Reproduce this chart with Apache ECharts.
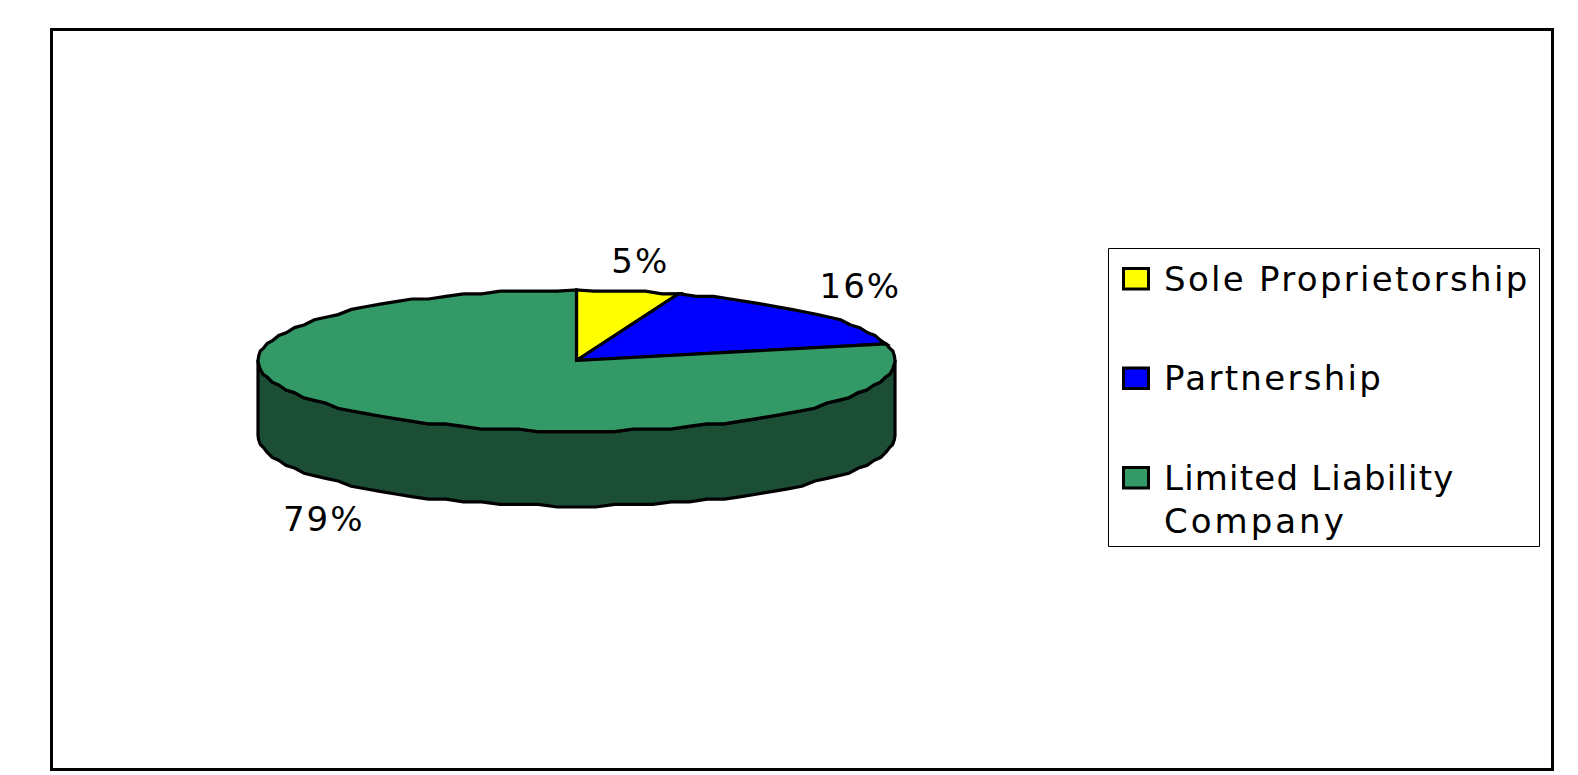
<!DOCTYPE html>
<html><head><meta charset="utf-8">
<style>
html,body{margin:0;padding:0;background:#fff}
#c{width:1578px;height:775px}
#c svg text{letter-spacing:2.3px}
</style>
<script src="https://cdn.jsdelivr.net/npm/echarts@6/dist/echarts.min.js"></script>
</head><body><div id="c"></div>
<script>
const categories = ['Sole Proprietorship', 'Partnership', 'Limited Liability\nCompany'];
const shares = [5.2, 16.0, 78.8];
const topColors = ['#FFFF00', '#0000FF', '#339966'];
const sideColors = ['#808000', '#000080', '#1C4E36'];
const labelOffsets = [[12, -30], [49, -27], [-56, 103]];
const pie = {cx: 576.5, cy: 360.5, rx: 318.5, ry: 70.5, depth: 75, stroke: 3.2, snap: 2.6};
const font = 'DejaVu Sans';
const fontSize = 34;
const spacingByText = {'Limited Liability': 1.2, 'Company': 3, '5%': 2, '16%': 2, '79%': 2};

const total = shares.reduce((a, b) => a + b, 0);
const starts = [];
shares.reduce((acc, v, i) => { starts[i] = acc / total * 360; return acc + v; }, 0);

function pt(deg, dy) {
  const r = deg * Math.PI / 180;
  return [pie.cx + pie.rx * Math.sin(r), pie.cy - pie.ry * Math.cos(r) + (dy || 0)];
}
function arc(a0, a1, dy) {
  const n = Math.max(2, Math.ceil(Math.abs(a1 - a0) / 3.5));
  const out = [];
  for (let i = 0; i <= n; i++) {
    const p = pt(a0 + (a1 - a0) * i / n, dy);
    if (i > 0 && i < n) p[1] = Math.round(p[1] / pie.snap) * pie.snap;
    out.push(p);
  }
  return out;
}
function renderSlice(params, api) {
  const i = params.dataIndex;
  const a0 = starts[i], a1 = a0 + api.value(0) / total * 360;
  const children = [];
  const s0 = Math.max(a0, 90), s1 = Math.min(a1, 270);
  if (s1 > s0) {
    children.push({type: 'polygon', shape: {points: arc(s0, s1, 0).concat(arc(s1, s0, pie.depth))},
      style: {fill: sideColors[i], stroke: '#000', lineWidth: pie.stroke, lineJoin: 'round'}});
  }
  children.push({type: 'polygon', shape: {points: [[pie.cx, pie.cy]].concat(arc(a0, a1, 0))},
    style: {fill: topColors[i], stroke: '#000', lineWidth: pie.stroke, lineJoin: 'miter'}});
  const m = pt((a0 + a1) / 2);
  children.push({type: 'text', style: {
    x: m[0] + labelOffsets[i][0], y: m[1] + labelOffsets[i][1],
    text: Math.round(api.value(0)) + '%', fontFamily: font, fontSize: fontSize,
    fill: '#000', textAlign: 'center', textVerticalAlign: 'middle'}});
  return {type: 'group', children};
}

const box = {x: 1108.5, y: 248.5, w: 431, h: 298};
const swatchY = [268.5, 368, 467.5];
const textY = [257, 356, 456];
const legendGraphics = [
  {type: 'rect', shape: {x: 51.5, y: 29.5, width: 1501, height: 740},
   style: {fill: 'none', stroke: '#000', lineWidth: 3}, z: 1},
  {type: 'rect', shape: {x: box.x, y: box.y, width: box.w, height: box.h},
   style: {fill: '#fff', stroke: '#000', lineWidth: 1}, z: 2}
];
categories.forEach((name, i) => {
  legendGraphics.push({type: 'rect', z: 3, shape: {x: 1123.5, y: swatchY[i], width: 25, height: 20.5},
    style: {fill: topColors[i], stroke: '#000', lineWidth: 3}});
  legendGraphics.push({type: 'text', z: 3, style: {x: 1164, y: textY[i], text: name, fontFamily: font,
    fontSize: fontSize, lineHeight: 43, fill: '#000', textAlign: 'left', textVerticalAlign: 'top'}});
});

const chart = echarts.init(document.getElementById('c'), null, {renderer: 'svg', width: 1578, height: 775});
chart.setOption({
  animation: false,
  backgroundColor: '#fff',
  graphic: {elements: legendGraphics},
  series: [{type: 'custom', coordinateSystem: 'none', renderItem: renderSlice, data: shares.map(v => [v]), silent: true, z: 5}]
});
document.querySelectorAll('#c svg text').forEach(t => {
  const s = spacingByText[t.textContent.trim()];
  if (s !== undefined) t.style.letterSpacing = s + 'px';
});
</script></body></html>
